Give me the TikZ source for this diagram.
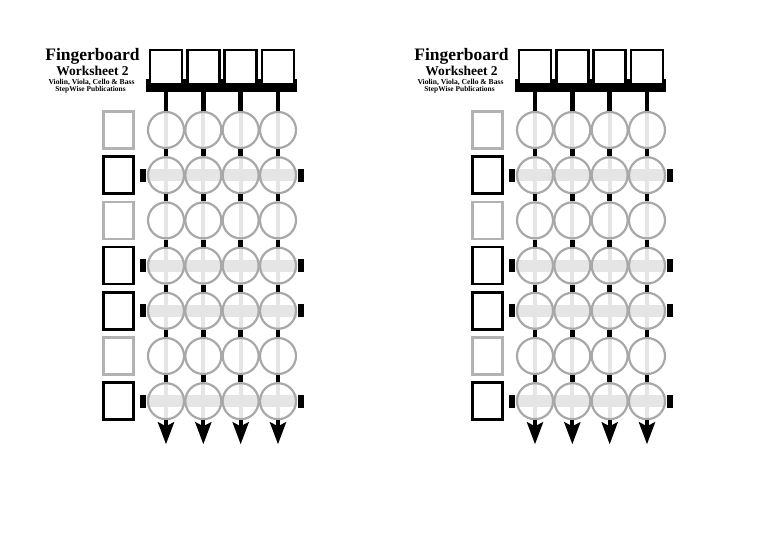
\documentclass[tikz,border=0pt]{standalone}
\usepackage{fontspec}
\setmainfont{Liberation Serif}
\usepackage{tikz}
\usetikzlibrary{arrows.meta, backgrounds}
\definecolor{ring}{gray}{0.66}
\definecolor{band}{gray}{0.9}
\definecolor{gray70}{gray}{0.7}

\tikzset{
  ring/.style={circle, draw=ring, line width=2.2, minimum size=36, inner sep=0},
  sqlight/.style={draw=gray70, line width=2.4, minimum width=30, minimum height=37, inner sep=0},
  sqdark/.style={draw=black, line width=2.6, minimum width=30, minimum height=37, inner sep=0},
  topsq/.style={draw=black, fill=white, line width=2.6, minimum width=32, minimum height=34, inner sep=0},
  stem/.style={black, line width=4.5},
  vline/.style={band, line width=4},
  tip/.style={black, line width=4, -{Stealth[length=22, width=16, inset=4]}}
}

\begin{document}
\begin{tikzpicture}[x=1pt, y=-1pt]
  \useasboundingbox (0, 0) rectangle (768, 543);

  \foreach \px/\p in {0/a, 369/b} {
  \begin{scope}[shift={(\px, 0)}]

    % title
    \node[inner sep=0] (title\p) at (92.5, 56.5) {\fontsize{17.5}{18}\selectfont\bfseries Fingerboard};
    \node[inner sep=0] (sheet\p) at (92.5, 70.5) {\fontsize{13.5}{14}\selectfont\bfseries Worksheet 2};
    \node[inner sep=0] (inst\p) at (91.5, 82) {\fontsize{7.6}{8}\selectfont\bfseries Violin, Viola, Cello \& Bass};
    \node[inner sep=0] (pub\p) at (90.5, 90) {\fontsize{7.4}{8}\selectfont\bfseries StepWise Publications};

    % nut bar and string boxes
    \node[fill=black, minimum width=151, minimum height=13, inner sep=0] (bar\p) at (221.5, 85.5) {};

    \foreach \c in {1, 2, 3, 4} {
      \pgfmathsetmacro{\x}{166 + 37.33 * (\c - 1)}
      \node[topsq] (top\p-\c) at (\x, 67) {};
    }

    % finger positions
    \foreach \r/\k in {1/sqlight, 2/sqdark, 3/sqlight, 4/sqdark, 5/sqdark, 6/sqlight, 7/sqdark} {
      \pgfmathsetmacro{\y}{130 + 45.2 * (\r - 1)}
      \node[\k] (box\p-\r) at (118.5, \y) {};
      \foreach \c in {1, 2, 3, 4} {
        \pgfmathsetmacro{\x}{166 + 37.33 * (\c - 1)}
        \node[ring] (c\p-\r-\c) at (\x, \y) {};
      }
    }

    \begin{pgfonlayer}{background}
      \foreach \r in {2, 4, 5, 7} {
        \fill[band] ([yshift=6]c\p-\r-1.west) rectangle ([yshift=-6]c\p-\r-4.east);
        \fill[black] ([shift={(-1, 6.5)}]c\p-\r-1.west) rectangle ([shift={(-7, -6.5)}]c\p-\r-1.west);
        \fill[black] ([shift={(1, 6.5)}]c\p-\r-4.east) rectangle ([shift={(7, -6.5)}]c\p-\r-4.east);
      }
      \foreach \c in {1, 2, 3, 4}
        \draw[vline] (c\p-1-\c.north) -- (c\p-7-\c.south);
    \end{pgfonlayer}

    % strings
    \foreach \c in {1, 2, 3, 4} {
      \draw[stem] (bar\p.south -| c\p-1-\c) -- (c\p-1-\c.north);
      \foreach \r [evaluate=\r as \s using int(\r + 1)] in {1, 2, ..., 6}
        \draw[stem] (c\p-\r-\c.south) -- (c\p-\s-\c.north);
      \coordinate (end\p-\c) at ([yshift=-24]c\p-7-\c.south);
      \draw[tip] (c\p-7-\c.south) -- (end\p-\c);
    }

  \end{scope}
  }

\end{tikzpicture}
\end{document}
